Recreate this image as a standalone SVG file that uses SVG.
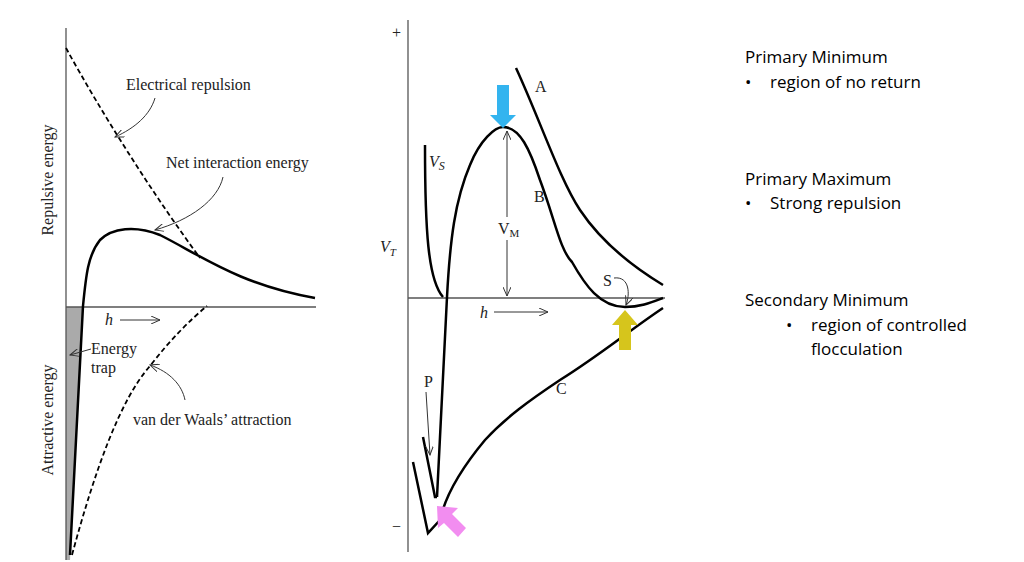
<svg xmlns="http://www.w3.org/2000/svg" width="1024" height="562" viewBox="0 0 1024 562">
<defs>
<marker id="ah" markerWidth="10" markerHeight="8" refX="9" refY="4" orient="auto" markerUnits="userSpaceOnUse"><path d="M0,0 L9,4 L0,8" fill="none" stroke="#333" stroke-width="1"/></marker>
<style>
.ax{stroke:#555;stroke-width:1.3;fill:none}
.cv{stroke:#000;stroke-width:2.5;fill:none}
.ds{stroke:#000;stroke-width:1.8;fill:none;stroke-dasharray:5,3}
.th{stroke:#333;stroke-width:1;fill:none}
.s{font-family:"Liberation Serif",serif;font-size:16px;fill:#222}
.r{font-family:"Open Sans","Liberation Sans",sans-serif;font-size:17px;fill:#000}
</style>
</defs>
<rect width="1024" height="562" fill="#fff"/>
<g id="left-plot">
<polygon points="66,307 83,307 70,560 66,560" fill="#aaa"/>
<line class="ax" x1="66" y1="28" x2="66" y2="560"/>
<line class="ax" x1="66" y1="307" x2="316" y2="307"/>
<path class="ds" d="M66,48 C100,110 150,190 200,258"/>
<path class="ds" d="M72,555 C95,470 120,400 150,366 C170,340 190,320 207,306"/>
<path class="cv" d="M70,555 L83,306 C86,275 88,255 100,240 C112,228 135,225 160,235 C200,255 240,285 315,298"/>
<text class="s" x="126" y="90">Electrical repulsion</text>
<path class="th" d="M155,98 C150,115 135,128 115,137" marker-end="url(#ah)"/>
<text class="s" x="166" y="168">Net interaction energy</text>
<path class="th" d="M223,177 C218,200 190,220 155,230" marker-end="url(#ah)"/>
<text class="s" x="105" y="325" font-style="italic">h</text>
<line class="th" x1="120" y1="320" x2="160" y2="320" marker-end="url(#ah)"/>
<text class="s" x="91" y="354">Energy</text>
<text class="s" x="91" y="373">trap</text>
<line class="th" x1="91" y1="349" x2="70" y2="355" marker-end="url(#ah)"/>
<text class="s" x="133" y="425">van der Waals’ attraction</text>
<path class="th" d="M185,400 C182,385 170,372 150,365" marker-end="url(#ah)"/>
<text class="s" transform="translate(53,180) rotate(-90)" text-anchor="middle">Repulsive energy</text>
<text class="s" transform="translate(53,420) rotate(-90)" text-anchor="middle">Attractive energy</text>
</g>
<g id="right-plot">
<line class="ax" x1="408" y1="20" x2="408" y2="552"/>
<line class="ax" x1="408" y1="298" x2="665" y2="298"/>
<text class="s" x="392" y="38">+</text>
<text class="s" x="392" y="532">−</text>
<text class="s" x="380" y="252" font-style="italic">V<tspan font-size="11" dy="4">T</tspan></text>
<path class="cv" d="M425,145 C425,230 428,280 443,297"/>
<text class="s" x="429" y="167" font-style="italic">V<tspan font-size="12" dy="3">S</tspan></text>
<path class="cv" d="M437,497 L447,297 C450,240 455,200 470,165 C480,140 495,127 503,127 C520,127 530,150 540,180 C555,220 560,250 572,262 C585,285 600,307 625,307 C640,307 650,303 663,298"/>
<path class="cv" d="M423,437 L435,497 L437,497"/>
<path class="cv" d="M413,462 L428,533 L440,520 C445,497 460,470 485,440 C505,418 530,400 560,380 C600,355 630,330 663,308"/>
<path class="cv" d="M516,68 C540,120 560,180 580,210 C600,240 630,265 663,285"/>
<text class="s" x="535" y="92">A</text>
<text class="s" x="534" y="202">B</text>
<text class="s" x="556" y="394">C</text>
<text class="s" x="424" y="387">P</text>
<line class="th" x1="426" y1="392" x2="430" y2="455" marker-end="url(#ah)"/>
<text class="s" x="498" y="234">V<tspan font-size="11" dy="3">M</tspan></text>
<line class="th" x1="507" y1="217" x2="507" y2="131" marker-end="url(#ah)"/>
<line class="th" x1="507" y1="240" x2="507" y2="296" marker-end="url(#ah)"/>
<text class="s" x="480" y="318" font-style="italic">h</text>
<line class="th" x1="494" y1="312" x2="548" y2="312" marker-end="url(#ah)"/>
<text class="s" x="603" y="286">S</text>
<path class="th" d="M614,278 C630,276 630,295 626,305" marker-end="url(#ah)"/>
<polygon points="497,85 509,85 509,115 516,115 503,128 490,115 497,115" fill="#33b4ef"/>
<polygon points="619,350 631,350 631,325 638,325 625,310 612,325 619,325" fill="#d6c51c"/>
<polygon points="437,506 458,508 452,514 466,528 458,537 444,523 438,528" fill="#f28df0"/>
</g>
<g id="notes">
<text class="r" x="745" y="63">Primary Minimum</text>
<text class="r" x="745" y="88">•</text><text class="r" x="770" y="88">region of no return</text>
<text class="r" x="745" y="185">Primary Maximum</text>
<text class="r" x="745" y="209">•</text><text class="r" x="770" y="209">Strong repulsion</text>
<text class="r" x="745" y="306">Secondary Minimum</text>
<text class="r" x="786" y="331">•</text><text class="r" x="811" y="331">region of controlled</text>
<text class="r" x="811" y="355">flocculation</text>
</g>
</svg>
